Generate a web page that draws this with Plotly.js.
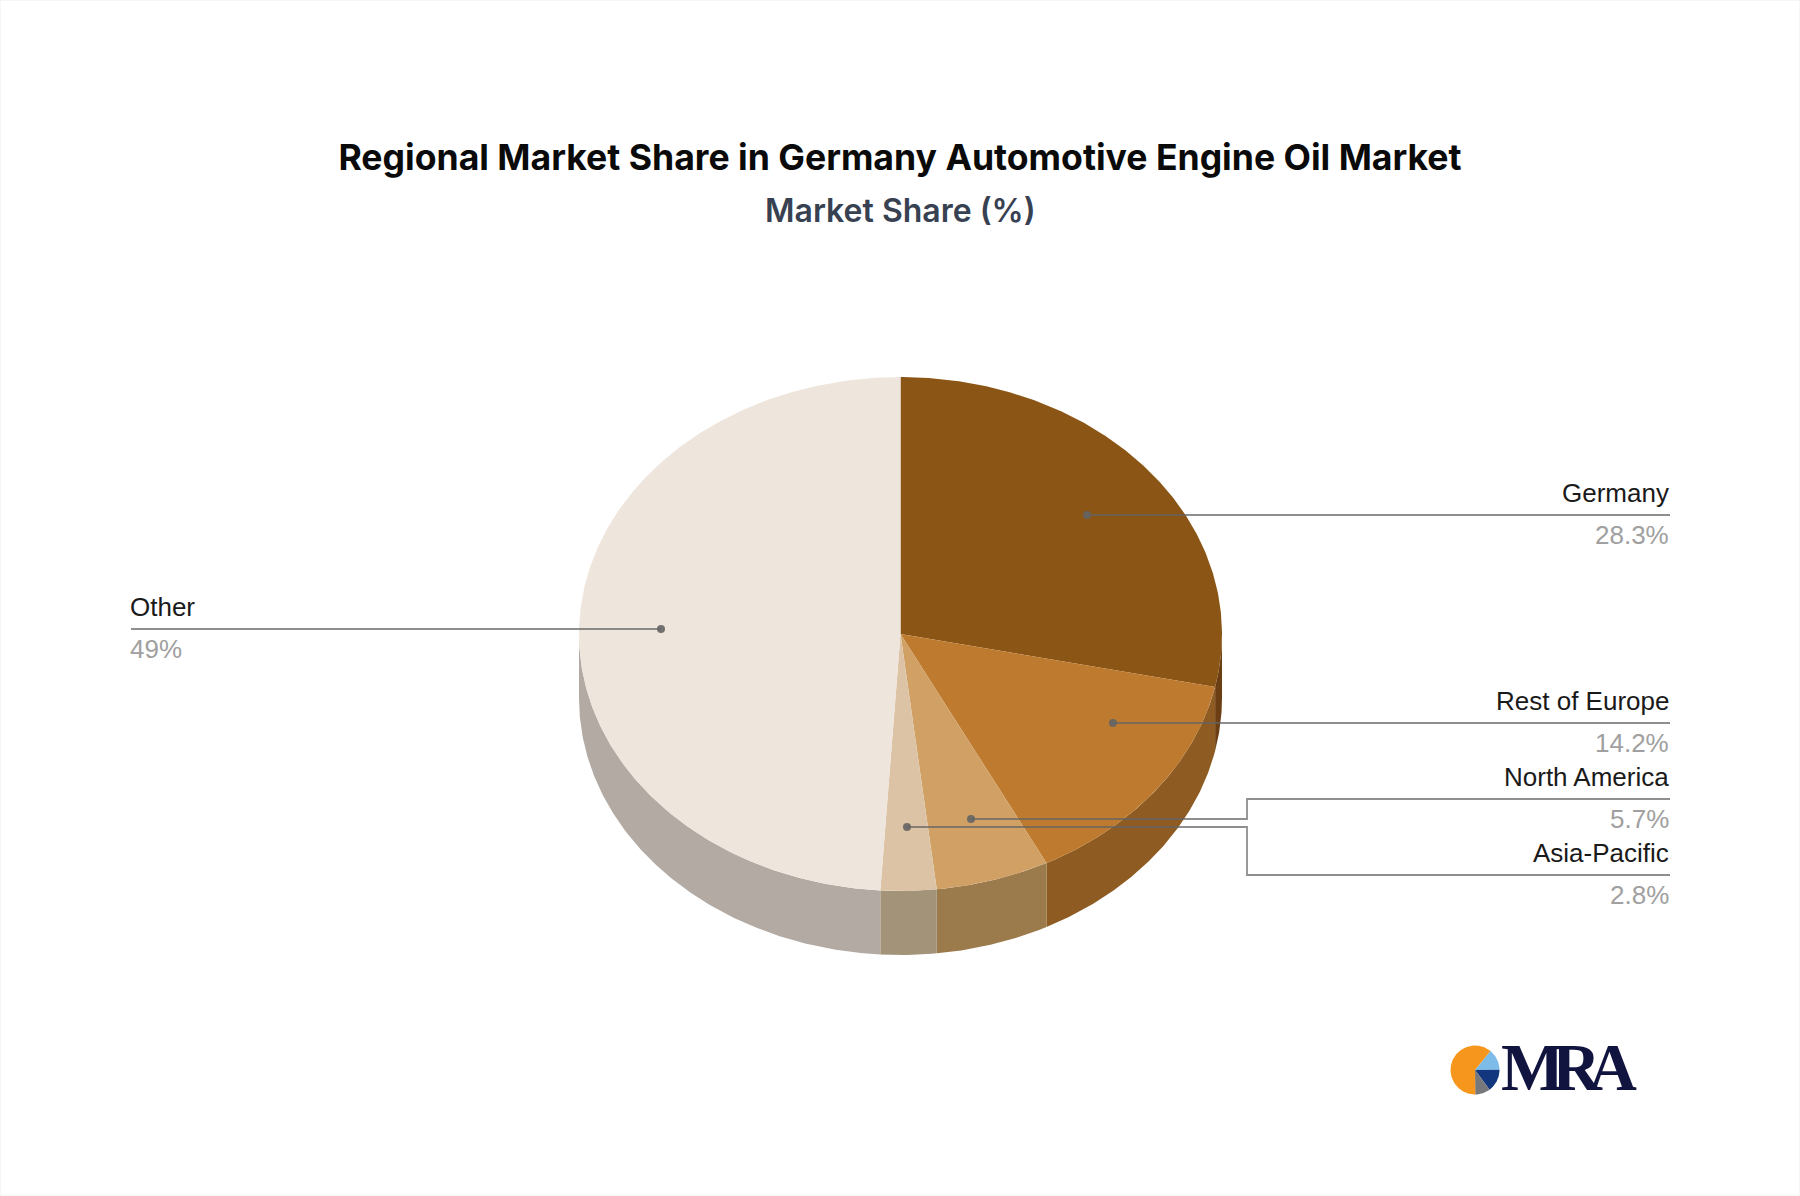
<!DOCTYPE html>
<html>
<head>
<meta charset="utf-8">
<script src="https://cdn.plot.ly/plotly-3.0.1.min.js"></script>
<style>html,body{margin:0;padding:0;background:#fff}#chart{width:1800px;height:1196px}</style>
</head>
<body>
<div id="chart"></div>
<script>
// ---- data ----
var categories = ['Germany', 'Rest of Europe', 'North America', 'Asia-Pacific', 'Other'];
var shares = [28.3, 14.2, 5.7, 2.8, 49];
var logoShares = [14, 15, 10, 61];

// ---- styles ----
var topColors = ['#8B5516', '#BE7A2E', '#D0A065', '#DDC3A5', '#EEE5DC'];
var sideColors = ['#6B3E14', '#8E5C22', '#9B7A4B', '#A29379', '#B2AAA3'];
var logoColors = ['#7DBCE8', '#12377F', '#77787C', '#F7961D'];

// ---- layout geometry (pixels of the page, used as axis units) ----
var pie = {cx: 900.5, cy: 634, rx: 321.5, ry: 257, depth: 64};
var logo = {cx: 1475, cy: 1070, r: 24.5, start: 39};
// leader routing per category: dot, optional elbow x, rail y, rail end x
var leaders = [
  {dot: [1087, 515], railY: 515, endX: 1670},
  {dot: [1113, 723], railY: 723, endX: 1670},
  {dot: [971, 819], elbowX: 1247, railY: 799, endX: 1670},
  {dot: [907, 827], elbowX: 1247, railY: 875, endX: 1670},
  {dot: [661, 629], railY: 629, endX: 131}
];
var leaderColor = 'rgba(100,100,100,0.72)';
var labelFont = {family: '"Liberation Sans", Arial, sans-serif', size: 26, color: '#1a1a1a'};
var valueFont = {family: '"Liberation Sans", Arial, sans-serif', size: 26, color: '#a0a0a0'};

function arc(cx, cy, rx, ry, a0, a1) {
  var n = Math.max(2, Math.ceil(Math.abs(a1 - a0) * 2)), xs = [], ys = [];
  for (var i = 0; i <= n; i++) {
    var a = (a0 + (a1 - a0) * i / n) * Math.PI / 180;
    xs.push(cx + rx * Math.sin(a));
    ys.push(cy - ry * Math.cos(a));
  }
  return {x: xs, y: ys};
}
function fillTrace(xs, ys, color) {
  return {type: 'scatter', mode: 'lines', x: xs, y: ys, fill: 'toself', fillcolor: color,
    line: {width: 0, color: color}, hoverinfo: 'skip', showlegend: false};
}

var traces = [];
var total = shares.reduce(function (s, v) { return s + v; }, 0);
var cum = 0, spans = shares.map(function (v) {
  var a0 = cum / total * 360; cum += v;
  return [a0, cum / total * 360];
});

// side walls: only the front half of the rim (90..270 degrees) is visible
spans.forEach(function (s, i) {
  var a0 = Math.max(s[0], 90), a1 = Math.min(s[1], 270);
  if (a1 <= a0) return;
  var t = arc(pie.cx, pie.cy, pie.rx, pie.ry, a0, a1);
  var b = arc(pie.cx, pie.cy + pie.depth, pie.rx, pie.ry, a1, a0);
  traces.push(fillTrace(t.x.concat(b.x, [t.x[0]]), t.y.concat(b.y, [t.y[0]]), sideColors[i]));
});
// top faces
spans.forEach(function (s, i) {
  var t = arc(pie.cx, pie.cy, pie.rx, pie.ry, s[0], s[1]);
  traces.push(fillTrace([pie.cx].concat(t.x, [pie.cx]), [pie.cy].concat(t.y, [pie.cy]), topColors[i]));
});
// leader lines and dots
leaders.forEach(function (l) {
  var xs = [l.dot[0]], ys = [l.dot[1]];
  if (l.elbowX !== undefined) { xs.push(l.elbowX, l.elbowX); ys.push(l.dot[1], l.railY); }
  xs.push(l.endX); ys.push(l.railY);
  traces.push({type: 'scatter', mode: 'lines', x: xs, y: ys,
    line: {width: 1.8, color: leaderColor}, hoverinfo: 'skip', showlegend: false});
  traces.push({type: 'scatter', mode: 'markers', x: [l.dot[0]], y: [l.dot[1]],
    marker: {size: 8, color: 'rgba(100,100,100,0.9)'}, hoverinfo: 'skip', showlegend: false});
});
// logo pie
var lc = 0, lt = logoShares.reduce(function (s, v) { return s + v; }, 0);
logoShares.forEach(function (v, i) {
  var a0 = logo.start + lc / lt * 360; lc += v;
  var a1 = logo.start + lc / lt * 360;
  var t = arc(logo.cx, logo.cy, logo.r, logo.r, a0, a1);
  traces.push(fillTrace([logo.cx].concat(t.x, [logo.cx]), [logo.cy].concat(t.y, [logo.cy]), logoColors[i]));
});

var annotations = [];
function addText(x, y, text, font, anchor) {
  annotations.push({xref: 'x', yref: 'y', x: x, y: y, text: text, showarrow: false,
    xanchor: anchor, yanchor: 'middle', font: font, borderpad: 0, borderwidth: 0});
}
leaders.forEach(function (l, i) {
  var left = l.endX < pie.cx;
  var edge = left ? l.endX - 1 : l.endX - 1;
  addText(edge, l.railY - 22, categories[i], labelFont, left ? 'left' : 'right');
  addText(edge, l.railY + 20, shares[i] + '%', valueFont, left ? 'left' : 'right');
});
addText(900, 210, 'Market Share (%)',
  {family: 'Inter, sans-serif', size: 32, color: '#374151', weight: 600}, 'center');
addText(1501, 1067, '<span style="letter-spacing:-12px">MRA</span>',
  {family: '"Liberation Serif", serif', size: 67, color: '#10143F', weight: 700}, 'left');

var layout = {
  width: 1800, height: 1196,
  margin: {l: 0, r: 0, t: 0, b: 0},
  paper_bgcolor: '#ffffff', plot_bgcolor: '#ffffff',
  showlegend: false,
  hovermode: false,
  title: {text: 'Regional Market Share in Germany Automotive Engine Oil Market',
    x: 0.5, xanchor: 'center', xref: 'paper', y: 1 - 158 / 1196, yanchor: 'middle', yref: 'paper',
    font: {family: 'Inter, sans-serif', size: 35.6, color: '#0a0a0a', weight: 700}},
  xaxis: {range: [0, 1800], visible: false, fixedrange: true},
  yaxis: {range: [1196, 0], visible: false, fixedrange: true},
  shapes: [{type: 'rect', xref: 'paper', yref: 'paper', x0: 0, x1: 1, y0: 0, y1: 1,
    line: {color: '#f6f6f6', width: 2}, layer: 'below'}],
  annotations: annotations
};
Plotly.newPlot('chart', traces, layout, {displayModeBar: false, staticPlot: true});
</script>
</body>
</html>
